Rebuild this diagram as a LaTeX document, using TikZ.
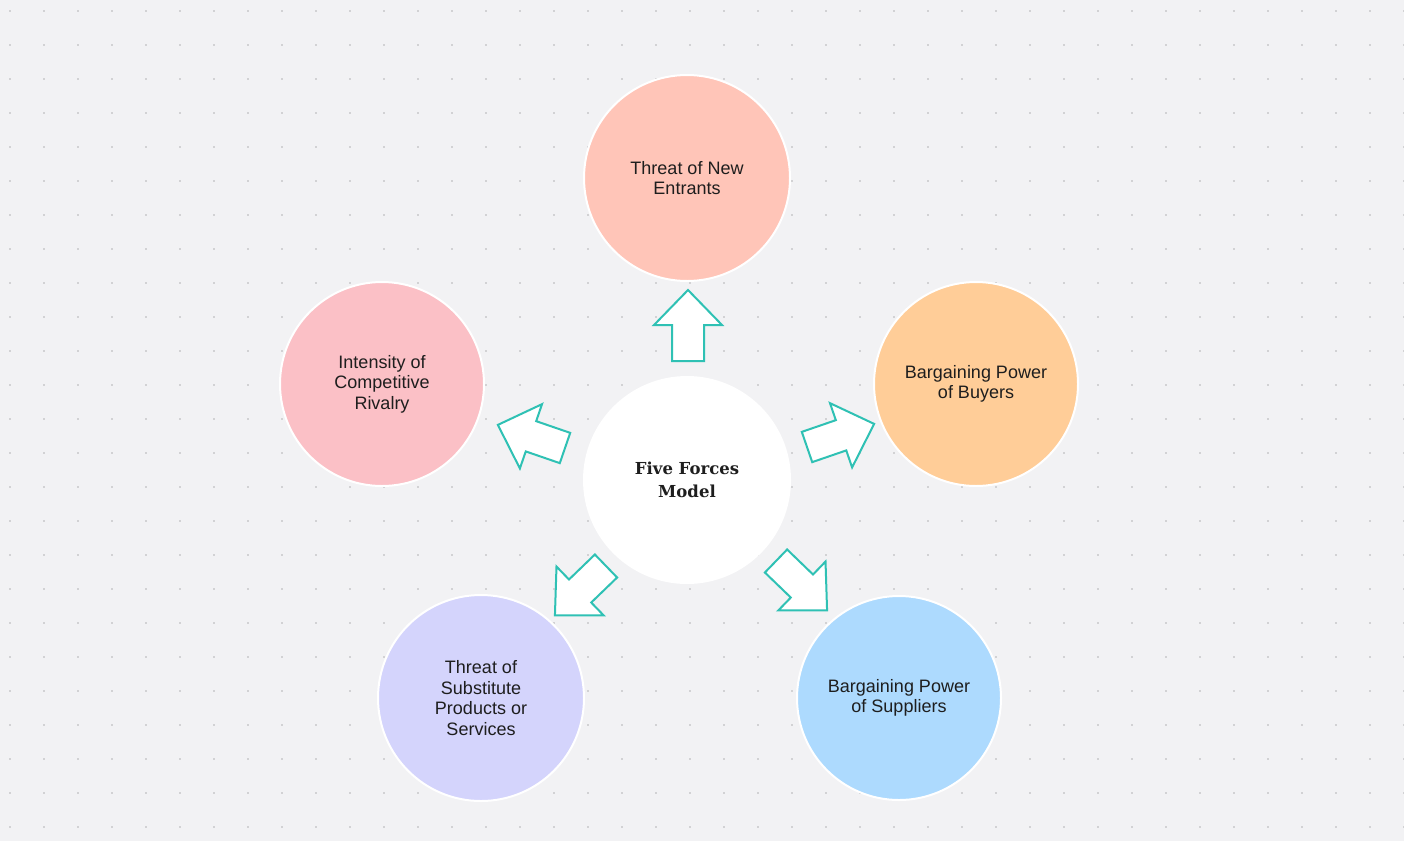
\documentclass[tikz,border=0pt]{standalone}
\usepackage{fontspec}
\setmainfont{Liberation Sans}
\newfontfamily\slabfont{DejaVu Serif}

\definecolor{paper}{HTML}{F2F2F4}
\definecolor{griddot}{HTML}{D2D2D4}
\definecolor{inkdark}{HTML}{1E1E1E}
\definecolor{teal}{HTML}{2FC1B4}
\definecolor{entrants}{HTML}{FFC5B8}
\definecolor{rivalry}{HTML}{FBC0C6}
\definecolor{buyers}{HTML}{FFCD98}
\definecolor{substitutes}{HTML}{D4D4FC}
\definecolor{suppliers}{HTML}{ADDAFE}

\tikzset{
  force/.style={circle, draw=white, line width=2pt, minimum size=206pt, inner sep=0pt,
    align=center, text=inkdark, font=\fontsize{18}{20.5}\selectfont},
  pics/forcearrow/.style={code={
    \draw[teal, line width=2pt, fill=white, line join=miter]
      (0,-16) -- (36,-16) -- (36,-34) -- (71,0) -- (36,34) -- (36,16) -- (0,16) -- cycle;
  }}
}

\begin{document}
\begin{tikzpicture}[x=1pt, y=-1pt]
  \useasboundingbox (0,0) rectangle (1404,841);
  \fill[paper] (0,0) rectangle (1404,841);
  % dotted canvas
  \foreach \i in {0,...,41}
    \foreach \j in {0,...,24}
      \fill[griddot] (8.5+34*\i,9.5+34*\j) rectangle ++(2,2);

  % the five forces
  \node[force, fill=entrants] (entrants) at (687,178) {Threat of New\\Entrants};
  \node[force, fill=rivalry, minimum size=204pt] (rivalry) at (382,384) {Intensity of\\Competitive\\Rivalry};
  \node[force, fill=buyers, minimum size=204pt] (buyers) at (976,384) {Bargaining Power\\of Buyers};
  \node[force, fill=substitutes] (substitutes) at (481,698) {Threat of\\Substitute\\Products or\\Services};
  \node[force, fill=suppliers, minimum size=204pt] (suppliers) at (899,698) {Bargaining Power\\of Suppliers};

  % centre
  \node[force, fill=white, font=\slabfont\bfseries\fontsize{16.5}{23}\selectfont] (model) at (687,480) {Five Forces\\Model};

  % arrows out of the model
  \pic[rotate=90] (toEntrants) at (688,361) {forcearrow};
  \pic[rotate=161] (toRivalry) at (565,448) {forcearrow};
  \pic[rotate=19] (toBuyers) at (807,447) {forcearrow};
  \pic[rotate=224] (toSubstitutes) at (606,566) {forcearrow};
  \pic[rotate=316] (toSuppliers) at (776,561) {forcearrow};
\end{tikzpicture}
\end{document}
